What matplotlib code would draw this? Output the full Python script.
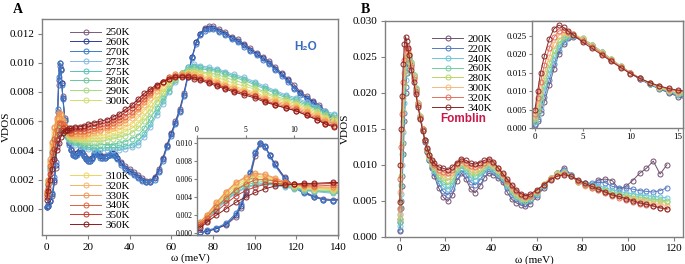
import numpy as np
import matplotlib
matplotlib.use('Agg')
import matplotlib.pyplot as plt
from matplotlib.ticker import FormatStrFormatter

plt.rcParams['font.family'] = ['Liberation Serif', 'DejaVu Serif']

# ---------------- Panel A : H2O  (VDOS values in units of 1e-4) ----------------
ice_omega = [0.3, 1, 2, 3, 4, 4.5, 5, 5.5, 6, 6.5,
             7, 7.5, 8, 9, 10, 11, 12, 13, 14, 15,
             16, 17, 18, 19, 20, 21, 22, 23, 24, 25,
             26, 27, 28, 29, 30, 31, 32, 33, 34, 36,
             38, 40, 42, 44, 46, 48, 50, 52, 54, 56,
             58, 60, 62, 64, 66, 68, 70, 72, 74, 76,
             78, 80, 83, 86, 89, 92, 95, 98, 101, 104,
             107, 110, 113, 116, 119, 122, 125, 128, 131, 134, 137]
vdos_250K = [1, 2, 5, 9, 18, 28, 42, 63, 85, 98,
             95, 86, 77, 62, 52, 46, 41, 38, 37, 38,
             40, 39, 37, 35, 34, 34, 35, 37, 38, 38,
             37, 36, 36, 36, 37, 38, 38, 37, 35, 32,
             29, 27, 25, 23, 21, 19, 19, 22, 27, 35,
             44, 52, 60, 68, 79, 92, 104, 114, 120, 124,
             125, 125, 123, 121, 118, 116, 113, 110, 107, 104,
             101, 97, 93, 89, 85, 80, 77, 74, 71, 67, 63]
vdos_260K = [1, 2, 5, 10, 20, 30, 45, 66, 88, 100,
             96, 86, 76, 61, 51, 45, 40, 37, 36, 38,
             40, 39, 36, 34, 33, 33, 35, 38, 39, 38,
             36, 35, 35, 36, 37, 38, 38, 37, 35, 31,
             28, 26, 24, 22, 20, 18, 18, 21, 26, 34,
             43, 51, 59, 67, 78, 91, 104, 114, 120, 123,
             124, 124, 122, 120, 117, 115, 112, 109, 106, 103,
             100, 96, 92, 88, 83, 79, 76, 73, 70, 66, 62]
vdos_270K = [1, 3, 6, 11, 22, 32, 48, 68, 90, 100,
             95, 85, 75, 60, 50, 44, 40, 37, 36, 37,
             39, 38, 36, 34, 33, 33, 34, 37, 38, 37,
             35, 35, 35, 36, 37, 37, 37, 36, 34, 30,
             27, 25, 23, 21, 19, 18, 18, 20, 25, 33,
             42, 50, 58, 66, 77, 90, 103, 113, 119, 122,
             123, 123, 121, 119, 116, 114, 111, 108, 105, 102,
             99, 95, 91, 87, 82, 78, 75, 72, 69, 65, 61]

water_omega = [0.3, 1, 2, 3, 4, 5, 6, 7, 8, 9,
               10, 11, 12, 14, 16, 18, 20, 23, 26, 29,
               32, 35, 38, 41, 44, 47, 50, 53, 56, 59,
               62, 65, 68, 71, 74, 78, 82, 86, 90, 95,
               100, 105, 110, 115, 120, 125, 130, 134, 138]
vdos_273K = [10, 16, 26, 36, 44, 50, 53, 54, 53, 51, 49, 47, 46, 44, 43, 42, 41, 40, 40, 40,
             40, 40, 41, 42, 44, 49, 56, 64, 72, 80, 87, 93, 97, 99, 98, 97, 96, 94, 92, 90,
             87, 84, 81, 78, 76, 73, 70, 67, 65]
vdos_275K = [10, 16, 27, 37, 45, 51, 54, 55, 54, 52, 50, 48, 47, 45, 44, 43, 42, 41, 41, 42,
             42, 42, 43, 44, 46, 51, 58, 66, 74, 81, 88, 93, 97, 98, 97, 96, 95, 93, 91, 89,
             86, 83, 80, 77, 75, 72, 69, 66, 64]
vdos_280K = [10, 17, 28, 38, 47, 53, 56, 57, 55, 53, 50, 48, 47, 46, 45, 44, 44, 43, 44, 44,
             44, 45, 46, 48, 50, 55, 62, 69, 76, 83, 88, 93, 96, 97, 96, 95, 94, 92, 90, 88,
             85, 82, 79, 76, 74, 71, 68, 65, 63]
vdos_290K = [11, 18, 30, 40, 49, 55, 59, 59, 57, 54, 51, 49, 48, 47, 47, 46, 46, 46, 46, 47,
             48, 49, 50, 52, 55, 60, 66, 73, 79, 85, 89, 93, 95, 95, 94, 93, 92, 90, 88, 86,
             83, 80, 77, 75, 73, 70, 67, 64, 62]
vdos_300K = [11, 18, 31, 42, 51, 57, 61, 61, 58, 55, 52, 50, 49, 48, 48, 47, 48, 48, 48, 49,
             50, 51, 53, 55, 58, 63, 69, 75, 81, 86, 90, 92, 94, 94, 93, 92, 90, 88, 86, 84,
             82, 79, 76, 74, 72, 69, 66, 63, 61]
vdos_310K = [11, 19, 32, 44, 53, 59, 63, 62, 59, 56, 53, 51, 50, 49, 49, 49, 49, 50, 50, 51,
             53, 54, 56, 58, 62, 67, 72, 78, 83, 88, 91, 92, 93, 93, 92, 90, 88, 86, 84, 82,
             80, 77, 75, 73, 71, 68, 65, 62, 60]
vdos_320K = [12, 20, 33, 45, 55, 61, 65, 64, 60, 56, 53, 51, 50, 50, 50, 50, 51, 52, 53, 54,
             55, 57, 59, 62, 66, 71, 76, 81, 86, 89, 92, 92, 92, 92, 91, 89, 87, 85, 83, 81,
             79, 76, 74, 72, 70, 67, 64, 61, 59]
vdos_330K = [12, 20, 34, 46, 56, 62, 66, 65, 61, 57, 54, 52, 51, 51, 51, 51, 52, 53, 54, 55,
             57, 59, 61, 64, 68, 73, 78, 83, 87, 90, 92, 92, 92, 91, 90, 88, 86, 84, 82, 80,
             78, 75, 73, 71, 69, 66, 63, 60, 58]
vdos_340K = [10, 17, 29, 39, 48, 54, 59, 59, 58, 56, 54, 53, 52, 53, 53, 53, 54, 55, 56, 57,
             59, 61, 63, 66, 70, 75, 79, 84, 87, 90, 91, 91, 91, 90, 89, 87, 85, 83, 81, 79,
             77, 74, 72, 70, 68, 65, 62, 59, 57]
vdos_350K = [8, 14, 24, 33, 41, 47, 51, 54, 55, 54, 54, 54, 54, 55, 55, 55, 56, 57, 58, 59,
             61, 63, 66, 69, 73, 77, 81, 84, 87, 89, 91, 91, 91, 90, 89, 87, 85, 83, 81, 79,
             77, 74, 71, 69, 67, 64, 61, 58, 57]
vdos_360K = [6, 12, 20, 27, 34, 40, 45, 49, 52, 53, 54, 55, 55, 56, 56, 57, 58, 59, 60, 61,
             63, 65, 68, 71, 75, 79, 82, 85, 87, 89, 90, 90, 90, 89, 88, 86, 84, 82, 80, 78,
             76, 73, 71, 69, 67, 64, 61, 58, 56]

labels_A = ['250K', '260K', '270K', '273K', '275K', '280K', '290K', '300K',
            '310K', '320K', '330K', '340K', '350K', '360K']
colors_A = ['#7a5a78', '#2d3f9a', '#3d7ccb', '#86b8e2', '#58c2bc', '#6cc79c', '#a9d882',
            '#d2de6e', '#f0d462', '#f6b466', '#f29254', '#e0603e', '#c43e2e', '#8b1c1c']
series_A = [(ice_omega, vdos_250K), (ice_omega, vdos_260K), (ice_omega, vdos_270K),
            (water_omega, vdos_273K), (water_omega, vdos_275K), (water_omega, vdos_280K),
            (water_omega, vdos_290K), (water_omega, vdos_300K), (water_omega, vdos_310K),
            (water_omega, vdos_320K), (water_omega, vdos_330K), (water_omega, vdos_340K),
            (water_omega, vdos_350K), (water_omega, vdos_360K)]

# ---------------- Panel B : Fomblin (VDOS in units of 1e-4) ----------------
b_omega = [0, 0.3, 0.6, 1, 1.5, 2, 2.5, 3, 3.5, 4,
           5, 6, 7, 8, 9, 10, 11, 12, 13, 14,
           15, 17, 19, 21, 23, 25, 27, 29, 31, 33,
           35, 37, 39, 41, 43, 45, 47, 49, 51, 53,
           55, 57, 60, 63, 66, 69, 72, 75, 78, 81,
           84, 87, 90, 93, 96, 99, 102, 105, 108, 111, 114, 117]
b_200K = [8, 20, 40, 70, 115, 160, 200, 228, 242, 246, 238, 222, 203, 183, 165, 148, 132, 118, 106, 95,
          85, 68, 55, 49, 58, 78, 88, 80, 66, 61, 70, 82, 88, 86, 82, 76, 62, 52, 47, 44,
          42, 46, 55, 68, 80, 88, 96, 86, 76, 72, 72, 79, 80, 78, 66, 70, 78, 88, 95, 105, 87, 100]
b_220K = [10, 25, 50, 85, 130, 172, 208, 232, 245, 248, 240, 224, 205, 185, 166, 149, 133, 119, 107, 97,
          88, 74, 63, 58, 66, 84, 92, 86, 76, 72, 78, 88, 94, 90, 85, 79, 68, 58, 52, 48,
          46, 50, 58, 70, 81, 88, 93, 86, 78, 75, 74, 76, 75, 70, 68, 68, 66, 64, 63, 62, 64, 68]
b_240K = [15, 32, 60, 100, 145, 185, 218, 238, 248, 250, 241, 225, 206, 186, 167, 150, 134, 120, 108, 99,
          91, 79, 70, 66, 72, 88, 96, 90, 82, 79, 84, 92, 98, 93, 87, 81, 71, 61, 55, 51,
          49, 52, 60, 71, 82, 88, 91, 86, 78, 74, 72, 71, 68, 65, 63, 61, 60, 58, 57, 56, 55, 54]
b_260K = [20, 40, 72, 115, 160, 198, 228, 244, 251, 252, 242, 225, 206, 186, 167, 150, 134, 120, 109, 100,
          93, 83, 76, 72, 77, 92, 99, 94, 86, 84, 88, 95, 100, 96, 89, 82, 73, 63, 56, 52,
          50, 53, 61, 72, 82, 88, 90, 85, 77, 73, 70, 68, 65, 62, 60, 58, 56, 55, 53, 52, 51, 50]
b_280K = [25, 50, 85, 130, 175, 212, 238, 250, 255, 254, 242, 225, 206, 186, 167, 150, 135, 121, 110, 101,
          95, 86, 81, 78, 83, 96, 102, 97, 90, 88, 92, 98, 102, 98, 91, 84, 75, 65, 58, 54,
          52, 55, 62, 73, 82, 88, 89, 84, 76, 72, 69, 66, 63, 60, 58, 56, 54, 52, 51, 50, 49, 48]
b_300K = [30, 62, 100, 148, 192, 228, 250, 258, 258, 254, 240, 222, 204, 185, 166, 150, 135, 122, 112, 104,
          98, 90, 86, 84, 88, 99, 104, 100, 94, 93, 96, 101, 104, 100, 93, 86, 77, 68, 61, 56,
          54, 56, 63, 73, 82, 87, 88, 84, 76, 71, 68, 65, 62, 58, 56, 54, 52, 50, 48, 46, 45, 43]
b_320K = [38, 80, 125, 170, 215, 245, 262, 265, 260, 253, 236, 219, 201, 183, 165, 149, 135, 122, 113, 105,
          100, 93, 90, 88, 92, 101, 106, 103, 98, 97, 99, 103, 106, 102, 95, 87, 78, 70, 63, 58,
          55, 57, 64, 72, 80, 85, 87, 84, 77, 72, 68, 65, 61, 57, 54, 51, 48, 46, 44, 42, 40, 38]
b_340K = [48, 100, 150, 195, 240, 268, 278, 272, 262, 252, 232, 215, 198, 180, 163, 147, 134, 123, 114, 107,
          102, 97, 95, 93, 97, 103, 108, 106, 102, 101, 103, 106, 108, 104, 96, 88, 80, 72, 65, 60,
          57, 59, 65, 72, 79, 84, 86, 84, 79, 74, 70, 66, 62, 58, 56, 53, 50, 47, 45, 43, 40, 39]

labels_B = ['200K', '220K', '240K', '260K', '280K', '300K', '320K', '340K']
colors_B = ['#70506e', '#5577c4', '#6cc6df', '#72cfa4', '#b9d664', '#f6b97c', '#e66f5e', '#8a2828']
series_B = [b_200K, b_220K, b_240K, b_260K, b_280K, b_300K, b_320K, b_340K]

SCALE = 1e-4
GREY = '#808080'


def style(ax, size):
    for s in ax.spines.values():
        s.set_color(GREY)
        s.set_linewidth(1.0)
    ax.tick_params(colors=GREY, labelcolor='black', labelsize=size,
                   length=3, width=0.8, direction='out', pad=2.5)
    ax.yaxis.set_major_formatter(FormatStrFormatter('%.3f'))


def curves(ax, data, colors, labels, ms=3.6):
    for (x, y), c, lab in zip(data, colors, labels):
        ax.plot(x, np.array(y) * SCALE, '-o', color=c, mfc='none', mec=c,
                ms=ms, mew=0.7, lw=0.7, label=lab)


fig = plt.figure(figsize=(6.85, 2.64), dpi=100)

# ---- A main
axA = fig.add_axes([0.0613, 0.1098, 0.4321, 0.8182])
curves(axA, series_A, colors_A, labels_A)
axA.set_xlim(-2, 140)
axA.set_ylim(-0.0018, 0.0130)
axA.set_xticks(np.arange(0, 141, 20))
axA.set_yticks(np.arange(0, 0.0121, 0.002))
style(axA, 8)
axA.set_ylabel('VDOS', fontsize=8)
axA.set_xlabel('ω (meV)', fontsize=8)
axA.yaxis.set_label_coords(-0.105, 0.5)
axA.xaxis.set_label_coords(0.5, -0.085)
h, l = axA.get_legend_handles_labels()
kw = dict(loc='upper left', frameon=False, fontsize=8, handlelength=2.8,
          handletextpad=0.4, labelspacing=0.0, borderpad=0, borderaxespad=0, numpoints=1)
leg1 = axA.legend(h[:8], l[:8], bbox_to_anchor=(0.095, 0.96), **kw)
axA.add_artist(leg1)
axA.legend(h[8:], l[8:], bbox_to_anchor=(0.095, 0.295), **kw)
axA.text(124.5, 0.0111, 'H₂O', color='#3b6cc0', fontsize=8.5, fontweight='bold',
         family=['Liberation Sans', 'DejaVu Sans'], ha='center', va='center')

# ---- A inset (low energy)
axAi = fig.add_axes([0.2876, 0.1098, 0.2058, 0.3672])
curves(axAi, series_A, colors_A, labels_A)
axAi.set_xlim(0, 14.5)
axAi.set_ylim(-0.0002, 0.0105)
axAi.set_xticks([0, 5, 10])
axAi.set_yticks(np.arange(0, 0.0101, 0.002))
axAi.xaxis.tick_top()
style(axAi, 5.5)
axAi.tick_params(length=2, pad=1)

# ---- B main
axB = fig.add_axes([0.562, 0.1034, 0.435, 0.8182])
curves(axB, [(b_omega, y) for y in series_B], colors_B, labels_B)
axB.set_xlim(-6.5, 124)
axB.set_ylim(0, 0.030)
axB.set_xticks(np.arange(0, 121, 20))
axB.set_yticks(np.arange(0, 0.0301, 0.005))
style(axB, 8)
axB.set_ylabel('VDOS', fontsize=8)
axB.set_xlabel('ω (meV)', fontsize=8)
axB.yaxis.set_label_coords(-0.117, 0.5)
axB.xaxis.set_label_coords(0.5, -0.085)
axB.legend(bbox_to_anchor=(0.158, 0.937), **kw)
axB.text(27.6, 0.01635, 'Fomblin', color='#c8184a', fontsize=8.5, fontweight='bold',
         family=['Liberation Sans', 'DejaVu Sans'], ha='center', va='center')

# ---- B inset
axBi = fig.add_axes([0.7766, 0.515, 0.2204, 0.4066])
curves(axBi, [(b_omega, y) for y in series_B], colors_B, labels_B)
axBi.set_xlim(-0.3, 15.5)
axBi.set_ylim(0, 0.029)
axBi.set_xticks([0, 5, 10, 15])
axBi.set_yticks(np.arange(0, 0.0251, 0.005))
style(axBi, 6.5)
axBi.tick_params(length=2, pad=1.5)

fig.text(0.026, 0.99, 'A', fontsize=10, fontweight='bold', va='top', ha='center')
fig.text(0.533, 0.99, 'B', fontsize=10, fontweight='bold', va='top', ha='center')

fig.savefig('out.png', dpi=100)
